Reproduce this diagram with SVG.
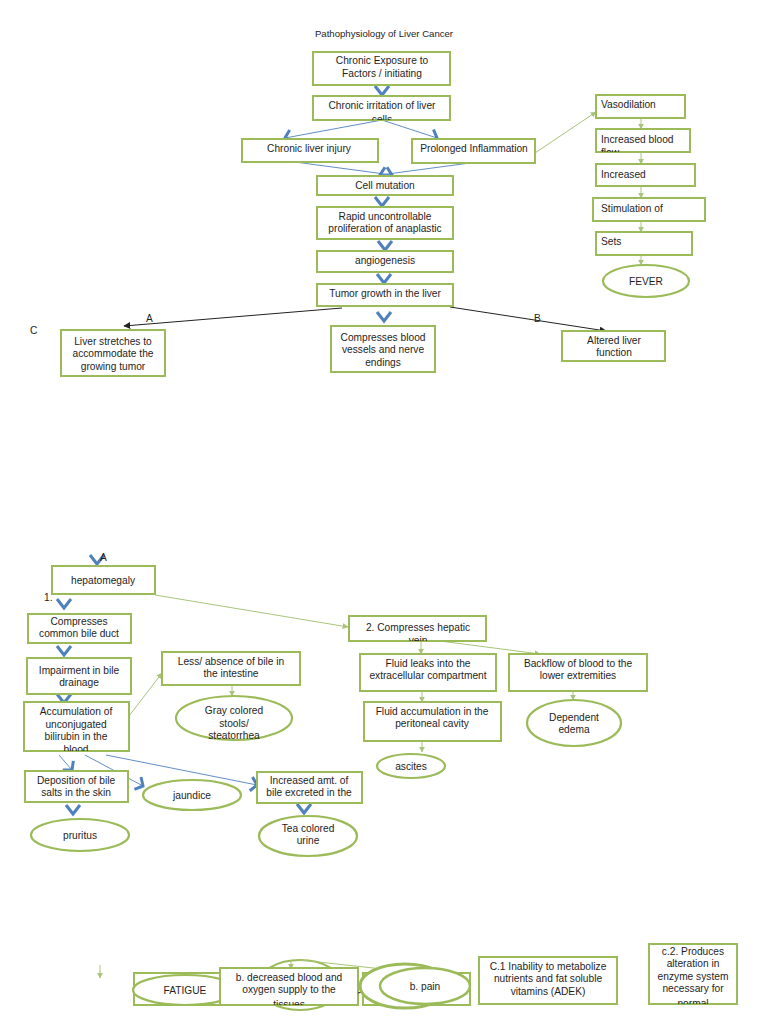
<svg xmlns="http://www.w3.org/2000/svg" width="768" height="1024" viewBox="0 0 768 1024">
<style>
.box{fill:#fff;stroke:#9bbb59;stroke-width:2}
.ell{fill:#fff;stroke:#9bbb59;stroke-width:2.2}
.t{font-family:"Liberation Sans",Arial,sans-serif;font-size:10.2px;fill:#1e1e1e;text-anchor:middle}
.tl{font-family:"Liberation Sans",Arial,sans-serif;font-size:10.2px;fill:#1e1e1e}
.blue{stroke:#4f81bd;stroke-width:0.9;fill:none}
.chev{stroke:#4f81bd;stroke-width:3;fill:none}
.gl{stroke:#a8c47a;stroke-width:1;fill:none}
.bk{stroke:#222;stroke-width:1;fill:none}
</style>
<defs>
<marker id="mchev" viewBox="-10 -10 20 20" refX="0" refY="0" markerWidth="20" markerHeight="20" markerUnits="userSpaceOnUse" orient="auto">
<path d="M-6,-7 L0,0 L-6,7" stroke="#4f81bd" stroke-width="3" fill="none"/>
</marker>
<marker id="mg" viewBox="0 0 10 10" refX="9" refY="5" markerWidth="6" markerHeight="6" markerUnits="userSpaceOnUse" orient="auto">
<path d="M0,0 L10,5 L0,10 z" fill="#a8c47a"/>
</marker>
<marker id="mb" viewBox="0 0 10 10" refX="9" refY="5" markerWidth="7" markerHeight="7" markerUnits="userSpaceOnUse" orient="auto">
<path d="M0,0 L10,5 L0,10 z" fill="#222"/>
</marker>
<path id="v" d="M-7,-4 L0,5 L7,-4" class="chev"/>
<clipPath id="c1"><rect x="313" y="52" width="137" height="33"/></clipPath>
<clipPath id="c2"><rect x="313" y="96" width="137" height="24"/></clipPath>
<clipPath id="c3"><rect x="596" y="129" width="94" height="23"/></clipPath>
<clipPath id="c4"><rect x="349" y="616" width="137" height="25"/></clipPath>
<clipPath id="c5"><rect x="24" y="702" width="105" height="49"/></clipPath>
<clipPath id="c6"><rect x="220" y="968" width="138" height="37"/></clipPath>
<clipPath id="c7"><rect x="649" y="944" width="88" height="60"/></clipPath>
<clipPath id="c8"><rect x="317" y="207" width="136" height="32"/></clipPath>
</defs>

<text class="t" x="384" y="37" style="font-size:9.6px">Pathophysiology of Liver Cancer</text>

<g id="connectors">
<use href="#v" x="382" y="90"/>
<line class="blue" x1="382" y1="120" x2="285" y2="138" marker-end="url(#mchev)"/>
<line class="blue" x1="382" y1="120" x2="437" y2="138" marker-end="url(#mchev)"/>
<line class="blue" x1="295" y1="162" x2="392" y2="175" marker-end="url(#mchev)"/>
<line class="blue" x1="470" y1="163" x2="380" y2="175" marker-end="url(#mchev)"/>
<line class="gl" x1="535" y1="153" x2="596" y2="112" marker-end="url(#mg)"/>
<line class="gl" x1="641" y1="118" x2="641" y2="129" marker-end="url(#mg)"/>
<line class="gl" x1="641" y1="152" x2="641" y2="164" marker-end="url(#mg)"/>
<line class="gl" x1="641" y1="186" x2="641" y2="198" marker-end="url(#mg)"/>
<line class="gl" x1="641" y1="221" x2="641" y2="232" marker-end="url(#mg)"/>
<line class="gl" x1="641" y1="255" x2="641" y2="265" marker-end="url(#mg)"/>
<use href="#v" x="382" y="201"/>
<use href="#v" x="385" y="245"/>
<use href="#v" x="384" y="278"/>
<use href="#v" x="384" y="316"/>
<line class="bk" x1="342" y1="308" x2="124" y2="326" marker-end="url(#mb)"/>
<line class="bk" x1="450" y1="307" x2="606" y2="331" marker-end="url(#mb)"/>

<use href="#v" x="97" y="559"/>
<use href="#v" x="64" y="603"/>
<use href="#v" x="64" y="650"/>
<use href="#v" x="64" y="698"/>
<line class="gl" x1="155" y1="595" x2="348" y2="627" marker-end="url(#mg)"/>
<line class="gl" x1="129" y1="716" x2="162" y2="673" marker-end="url(#mg)"/>
<line class="gl" x1="232" y1="686" x2="232" y2="696" marker-end="url(#mg)"/>
<line class="gl" x1="421" y1="641" x2="421" y2="654" marker-end="url(#mg)"/>
<line class="gl" x1="440" y1="641" x2="540" y2="654" marker-end="url(#mg)"/>
<line class="gl" x1="422" y1="691" x2="422" y2="702" marker-end="url(#mg)"/>
<line class="gl" x1="422" y1="742" x2="422" y2="752" marker-end="url(#mg)"/>
<line class="gl" x1="573" y1="691" x2="573" y2="700" marker-end="url(#mg)"/>
<line class="blue" x1="59" y1="755" x2="72" y2="770" marker-end="url(#mchev)"/>
<line class="blue" x1="85" y1="755" x2="143" y2="786" marker-end="url(#mchev)"/>
<line class="blue" x1="106" y1="755" x2="257" y2="785" marker-end="url(#mchev)"/>
<use href="#v" x="73" y="809"/>
<use href="#v" x="304" y="808"/>

<line class="gl" x1="100" y1="965" x2="100" y2="978" marker-end="url(#mg)"/>
</g>

<g id="n-title-boxes">
<g id="n1"><rect class="box" x="313" y="52" width="137" height="33"/>
<g clip-path="url(#c1)"><text class="t" x="382" y="64">Chronic Exposure to</text><text class="t" x="382" y="76.5">Factors / initiating</text></g></g>
<g id="n2"><rect class="box" x="313" y="96" width="137" height="24"/>
<g clip-path="url(#c2)"><text class="t" x="382" y="109">Chronic irritation of liver</text><text class="t" x="382" y="122.5">cells</text></g></g>
<g id="n3"><rect class="box" x="242" y="139" width="136" height="23"/><text class="t" x="309" y="151.5">Chronic liver injury</text></g>
<g id="n4"><rect class="box" x="412" y="139" width="123" height="24"/><text class="t" x="474" y="152">Prolonged Inflammation</text></g>
<g id="n5"><rect class="box" x="317" y="176" width="136" height="19"/><text class="t" x="385" y="188.5">Cell mutation</text></g>
<g id="n6"><rect class="box" x="317" y="207" width="136" height="32"/>
<g clip-path="url(#c8)"><text class="t" x="385" y="219.5">Rapid uncontrollable</text><text class="t" x="385" y="232">proliferation of anaplastic</text></g></g>
<g id="n7"><rect class="box" x="317" y="251" width="136" height="21"/><text class="t" x="385" y="263.5">angiogenesis</text></g>
<g id="n8"><rect class="box" x="317" y="284" width="136" height="22"/><text class="t" x="385" y="296.5">Tumor growth in the liver</text></g>
<g id="n9"><rect class="box" x="61" y="330" width="104" height="46"/>
<text class="t" x="113" y="344.5">Liver stretches to</text><text class="t" x="113" y="357">accommodate the</text><text class="t" x="113" y="369.5">growing tumor</text></g>
<g id="n10"><rect class="box" x="331" y="326" width="104" height="46"/>
<text class="t" x="383" y="340.5">Compresses blood</text><text class="t" x="383" y="353">vessels and nerve</text><text class="t" x="383" y="365.5">endings</text></g>
<g id="n11"><rect class="box" x="562" y="331" width="103" height="30"/>
<text class="t" x="614" y="343.5">Altered liver</text><text class="t" x="614" y="356">function</text></g>
<text class="tl" x="146" y="322">A</text>
<text class="tl" x="534" y="322">B</text>
<text class="tl" x="30" y="334">C</text>
</g>

<g id="n-fever-chain">
<g id="r1"><rect class="box" x="596" y="95" width="89" height="23"/><text class="tl" x="601" y="108">Vasodilation</text></g>
<g id="r2"><rect class="box" x="596" y="129" width="94" height="23"/>
<g clip-path="url(#c3)"><text class="tl" x="601" y="142.5">Increased blood</text><text class="tl" x="601" y="155.5">flow</text></g></g>
<g id="r3"><rect class="box" x="596" y="164" width="99" height="22"/><text class="tl" x="601" y="177.5">Increased</text></g>
<g id="r4"><rect class="box" x="593" y="198" width="112" height="23"/><text class="tl" x="601" y="211.5">Stimulation of</text></g>
<g id="r5"><rect class="box" x="596" y="232" width="96" height="23"/><text class="tl" x="601" y="245">Sets</text></g>
<g id="r6"><ellipse class="ell" cx="646" cy="281" rx="43" ry="16"/><text class="t" x="646" y="284.5">FEVER</text></g>
</g>

<g id="n-lower">
<text class="tl" x="100" y="561">A</text>
<g id="l1"><rect class="box" x="52" y="566" width="103" height="28"/><text class="t" x="103" y="583.5">hepatomegaly</text></g>
<text class="tl" x="44" y="601">1.</text>
<g id="l2"><rect class="box" x="28" y="614" width="103" height="29"/>
<text class="t" x="79" y="624.5">Compresses</text><text class="t" x="79" y="637">common bile duct</text></g>
<g id="l3"><rect class="box" x="27" y="658" width="104" height="36"/>
<text class="t" x="79" y="673.5">Impairment in bile</text><text class="t" x="79" y="686">drainage</text></g>
<g id="l4"><rect class="box" x="24" y="702" width="105" height="49"/>
<g clip-path="url(#c5)"><text class="t" x="76" y="715">Accumulation of</text><text class="t" x="76" y="727.5">unconjugated</text><text class="t" x="76" y="740">bilirubin in the</text><text class="t" x="76" y="753">blood</text></g></g>
<g id="l5"><rect class="box" x="162" y="652" width="138" height="33"/>
<text class="t" x="231" y="664.5">Less/ absence of bile in</text><text class="t" x="231" y="677">the intestine</text></g>
<g id="l6"><ellipse class="ell" cx="234" cy="718" rx="58" ry="22"/>
<text class="t" x="234" y="714">Gray colored</text><text class="t" x="234" y="726.5">stools/</text><text class="t" x="234" y="739">steatorrhea</text></g>
<g id="l7"><rect class="box" x="349" y="616" width="137" height="25"/>
<g clip-path="url(#c4)"><text class="t" x="418" y="630.5">2. Compresses hepatic</text><text class="t" x="418" y="644">vein</text></g></g>
<g id="l8"><rect class="box" x="360" y="654" width="136" height="37"/>
<text class="t" x="428" y="666.5">Fluid leaks into the</text><text class="t" x="428" y="679">extracellular compartment</text></g>
<g id="l9"><rect class="box" x="509" y="654" width="138" height="37"/>
<text class="t" x="578" y="666.5">Backflow of blood to the</text><text class="t" x="578" y="679">lower extremities</text></g>
<g id="l10"><rect class="box" x="364" y="702" width="137" height="39"/>
<text class="t" x="432" y="714.5">Fluid accumulation in the</text><text class="t" x="432" y="727">peritoneal cavity</text></g>
<g id="l11"><ellipse class="ell" cx="411" cy="766" rx="34" ry="12"/><text class="t" x="411" y="769.5">ascites</text></g>
<g id="l12"><ellipse class="ell" cx="574" cy="723" rx="47" ry="23"/>
<text class="t" x="574" y="720.5">Dependent</text><text class="t" x="574" y="733">edema</text></g>
<g id="l13"><rect class="box" x="25" y="771" width="103" height="31"/>
<text class="t" x="76" y="783.5">Deposition of bile</text><text class="t" x="76" y="796">salts in the skin</text></g>
<g id="l14"><ellipse class="ell" cx="192" cy="795" rx="49" ry="15"/><text class="t" x="192" y="798.5">jaundice</text></g>
<g id="l15"><rect class="box" x="257" y="772" width="105" height="31"/>
<text class="t" x="309" y="783.5">Increased amt. of</text><text class="t" x="309" y="796">bile excreted in the</text></g>
<g id="l16"><ellipse class="ell" cx="308" cy="836" rx="49" ry="20"/>
<text class="t" x="308" y="831.5">Tea colored</text><text class="t" x="308" y="844">urine</text></g>
<g id="l17"><ellipse class="ell" cx="80" cy="835" rx="49" ry="16"/><text class="t" x="80" y="838.5">pruritus</text></g>
</g>

<g id="n-bottom">
<g id="b1"><rect class="box" x="134" y="973" width="92" height="32"/></g>
<g id="b2"><ellipse class="ell" cx="300" cy="985" rx="42" ry="25"/></g>
<line class="gl" x1="291" y1="960" x2="291" y2="969" marker-end="url(#mg)"/>
<line class="gl" x1="300" y1="960" x2="410" y2="972" marker-end="url(#mg)"/>
<g id="b3"><ellipse class="ell" cx="185" cy="990" rx="52" ry="15"/><text class="t" x="185" y="994">FATIGUE</text></g>
<g id="b4"><rect class="box" x="220" y="968" width="138" height="37"/>
<g clip-path="url(#c6)"><text class="t" x="289" y="980.5">b. decreased blood and</text><text class="t" x="289" y="993">oxygen supply to the</text><text class="t" x="289" y="1008">tissues</text></g></g>
<line class="bk" x1="358" y1="993" x2="366" y2="991"/>
<g id="b5"><rect class="box" x="363" y="973" width="107" height="32"/><text class="tl" x="383" y="980">T</text></g>
<g id="b6"><ellipse class="ell" cx="405" cy="986" rx="45" ry="22" style="stroke-width:3"/></g>
<g id="b7"><ellipse class="ell" cx="425" cy="986" rx="45" ry="18" style="stroke-width:2.5"/><text class="t" x="425" y="989.5">b. pain</text></g>
<g id="b8"><rect class="box" x="479" y="957" width="138" height="47"/>
<text class="t" x="548" y="969.5">C.1 Inability to metabolize</text><text class="t" x="548" y="982">nutrients and fat soluble</text><text class="t" x="548" y="994.5">vitamins (ADEK)</text></g>
<g id="b9"><rect class="box" x="649" y="944" width="88" height="60"/>
<g clip-path="url(#c7)"><text class="t" x="693" y="954.5">c.2. Produces</text><text class="t" x="693" y="967">alteration in</text><text class="t" x="693" y="979.5">enzyme system</text><text class="t" x="693" y="992">necessary for</text><text class="t" x="693" y="1007">normal</text></g></g>
</g>
</svg>
